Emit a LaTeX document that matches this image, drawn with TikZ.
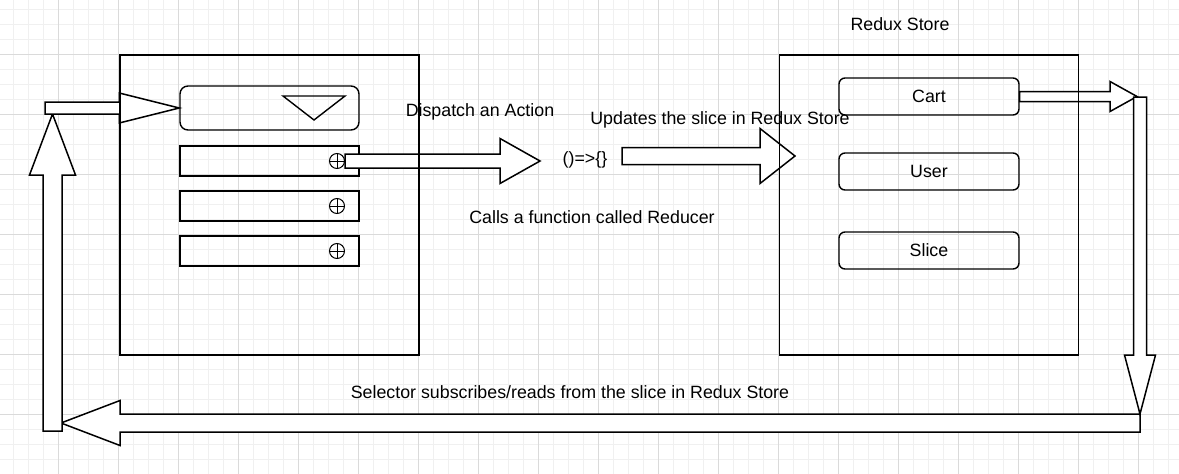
\documentclass[tikz,border=0pt]{standalone}
\usepackage{fontspec}
\setmainfont{Liberation Sans}
\usetikzlibrary{calc}

\definecolor{gridminor}{HTML}{F0F0F0}
\definecolor{gridmajor}{HTML}{DADADA}

\tikzset{
  field/.style={draw, line width=1.4pt, minimum width=179pt, minimum height=30pt, inner sep=0pt},
  bigbox/.style={draw, line width=1.4pt, minimum width=299pt, minimum height=300pt, inner sep=0pt},
  slicebox/.style={draw, line width=1.4pt, rounded corners=6pt, minimum width=180pt, minimum height=37pt,
    inner sep=0pt, font=\fontsize{17.8}{21}\selectfont},
  lbl/.style={inner sep=0pt, font=\fontsize{17.8}{21}\selectfont},
  plusmark/.style={draw, circle, line width=1pt, minimum size=15pt, inner sep=0pt,
    path picture={\draw[line width=1pt] (path picture bounding box.north) -- (path picture bounding box.south)
      (path picture bounding box.west) -- (path picture bounding box.east);}},
  fat/.style={draw, fill=white, line width=1.5pt}
}

% block arrow: from, to, half shaft, half head, head length
\newcommand{\fatarrow}[5]{%
  \coordinate (fa-b) at ($(#2)!#5!(#1)$);
  \draw[fat] ($(#1)!#3!90:(#2)$) -- ($(fa-b)!#3!90:(#2)$) -- ($(fa-b)!#4!90:(#2)$) -- (#2)
    -- ($(fa-b)!#4!-90:(#2)$) -- ($(fa-b)!#3!-90:(#2)$) -- ($(#1)!#3!-90:(#2)$) -- cycle;
}

\begin{document}
\begin{tikzpicture}[x=1pt, y=-1pt]
  \useasboundingbox (0,0) rectangle (1179,474);
  \fill[white] (0,0) rectangle (1179,474);
  % grid
  \foreach \x in {13,28,...,1178} \draw[gridminor, line width=0.8pt] (\x,0) -- (\x,474);
  \foreach \y in {9,24,...,473} \draw[gridminor, line width=0.8pt] (0,\y) -- (1179,\y);
  \foreach \x in {58,118,...,1178} \draw[gridmajor, line width=0.8pt] (\x,0) -- (\x,474);
  \foreach \y in {54,114,...,473} \draw[gridmajor, line width=0.8pt] (0,\y) -- (1179,\y);

  % left screen
  \node[field, rounded corners=8pt, minimum height=44pt] (drop) at (269.5,108) {};
  \draw[line width=1.4pt] (283,96) -- (345,96) -- (314,120) -- cycle;
  \node[field] (row1) at (269.5,161) {};
  \node[field] (row2) at (269.5,206) {};
  \node[field] (row3) at (269.5,251) {};
  \node[plusmark] (p1) at (337,161) {};
  \node[plusmark] (p2) at (337,206) {};
  \node[plusmark] (p3) at (337,251) {};

  % store
  \node[slicebox] (cart) at (929,96.5) {Cart};
  \node[slicebox] (user) at (929,171.5) {User};
  \node[slicebox] (slice) at (929,250.5) {Slice};

  % labels
  \node[lbl] (title) at (900,24) {Redux Store};
  \node[lbl] (dispatch) at (480,112) {Dispatch an Action};
  \node[lbl] (fn) at (585,160) {()=>\{\}};
  \node[lbl] (updates) at (720,120) {Updates the slice in Redux Store};
  \node[lbl] (calls) at (592,217) {Calls a function called Reducer};
  \node[lbl] (selector) at (570,392) {Selector subscribes/reads from the slice in Redux Store};

  % arrow ends
  \coordinate (dtip) at (540,161);
  \coordinate (ustart) at (622,156);
  \coordinate (utip) at (795,156);
  \coordinate (ctip) at (1137,96.5);
  \coordinate (rtop) at (1140,97);
  \coordinate (rtip) at (1140,414);
  \coordinate (bstart) at (1140,423);
  \coordinate (btip) at (61,423);
  \coordinate (lstart) at (52.5,431);
  \coordinate (ltip) at (52.5,114);
  \coordinate (tstart) at (45,108);

  \fatarrow{p1.east}{dtip}{7pt}{22.5pt}{40pt}
  \fatarrow{ustart}{utip}{8.5pt}{27.5pt}{35pt}
  \fatarrow{cart.east}{ctip}{5pt}{15pt}{27pt}
  \fatarrow{bstart}{btip}{9pt}{22.5pt}{59pt}
  \fatarrow{rtop}{rtip}{6.5pt}{15.5pt}{59pt}
  \fatarrow{lstart}{ltip}{9.5pt}{23pt}{61pt}
  \fatarrow{tstart}{drop.west}{6pt}{15pt}{60pt}

  % screens on top
  \node[bigbox] (ui) at (269.5,205) {};
  \node[bigbox] (store) at (929,205) {};
\end{tikzpicture}
\end{document}
